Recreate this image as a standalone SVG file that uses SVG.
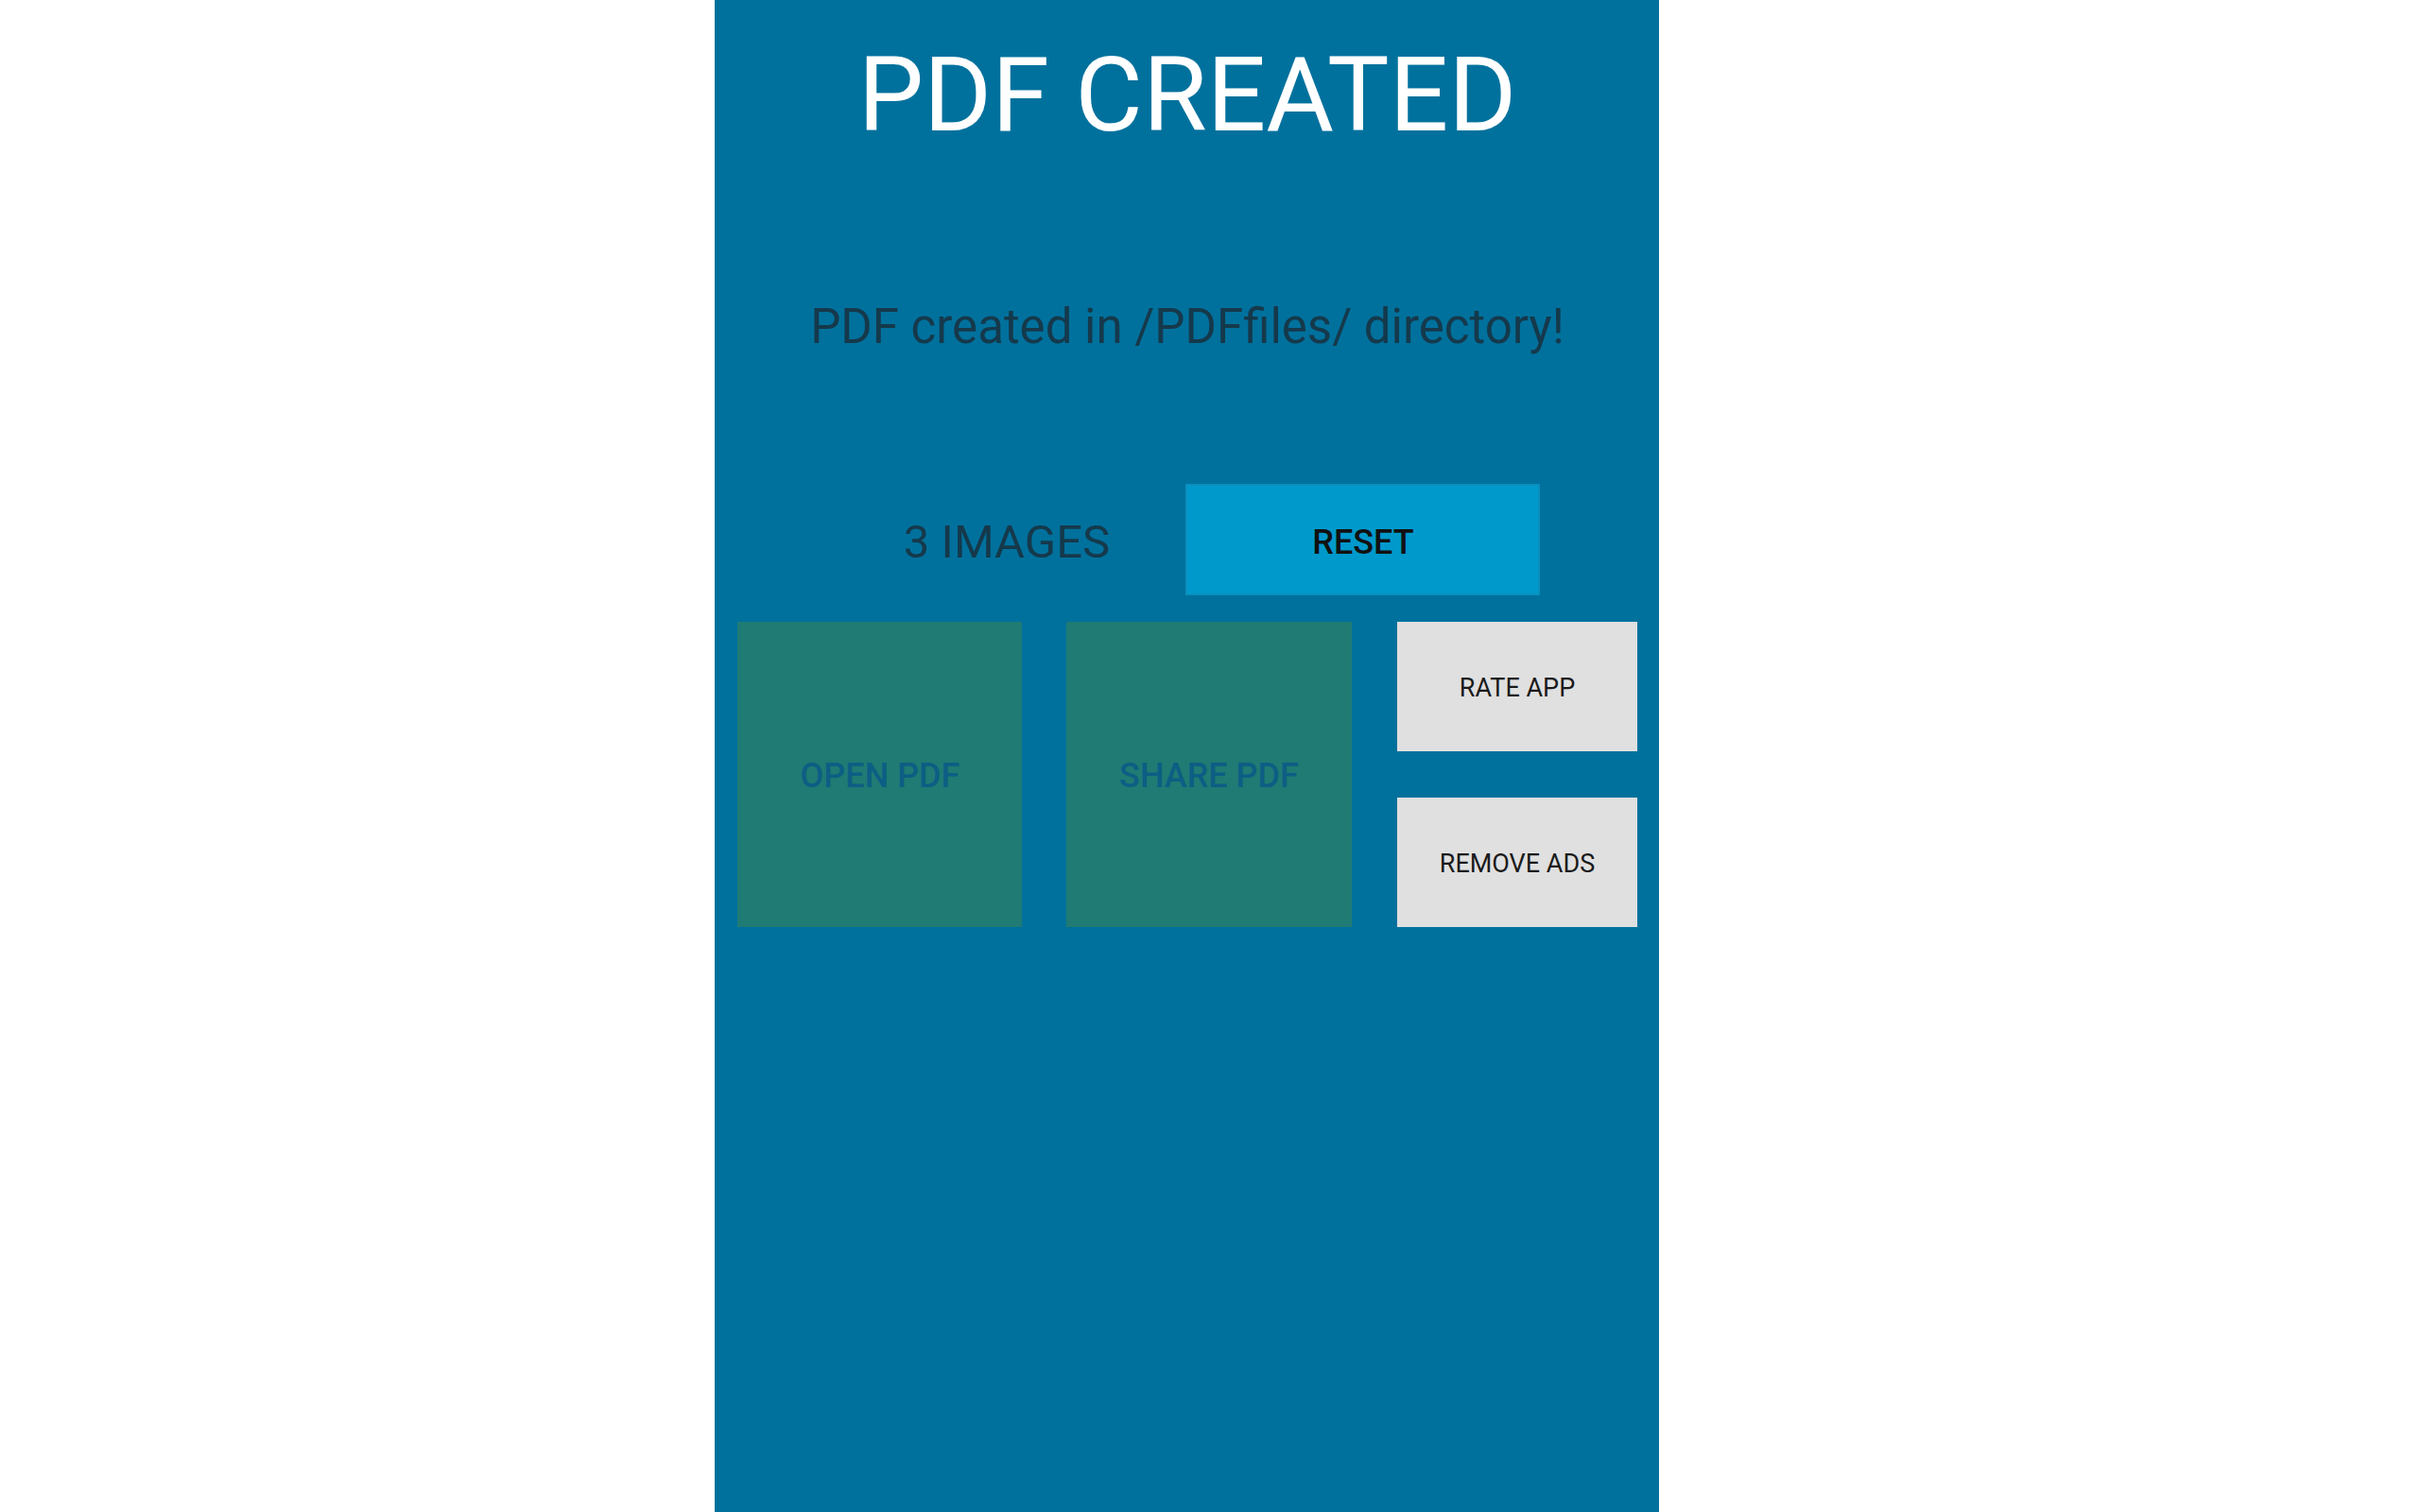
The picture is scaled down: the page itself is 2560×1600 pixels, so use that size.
<svg xmlns="http://www.w3.org/2000/svg" width="2560" height="1600" viewBox="0 0 2560 1600">
<style>
text{font-family:Roboto,"Liberation Sans",sans-serif;text-anchor:middle}
.green{fill:#1f7b73}
.gt{fill:#0d5e84;font-size:36px;font-weight:500}
.grey{fill:#e0e0e0}
.bt{fill:#1a1a1a;font-size:27px;font-weight:normal}
</style>
<rect width="2560" height="1600" fill="#fff"/>
<rect x="756" y="0" width="999" height="1600" fill="#00719d"/>
<g id="title"><text x="1256" y="138" font-size="110" fill="#fff">PDF CREATED</text></g>
<g id="message"><text x="1256" y="363" font-size="51" fill="#15394b">PDF created in /PDFfiles/ directory!</text></g>
<g id="count"><text x="1065" y="590" font-size="49" fill="#15394b">3 IMAGES</text></g>
<g id="reset"><rect x="1255" y="513" width="373" height="116" fill="#0099cc" stroke="#0a8fbd" stroke-width="2"/><text x="1442" y="586" font-size="36" font-weight="500" fill="#111">RESET</text></g>
<g id="open"><rect class="green" x="780" y="658" width="301" height="323"/><text class="gt" x="931" y="833">OPEN PDF</text></g>
<g id="share"><rect class="green" x="1128" y="658" width="302" height="323"/><text class="gt" x="1279" y="833">SHARE PDF</text></g>
<g id="rate"><rect class="grey" x="1478" y="658" width="254" height="137"/><text class="bt" x="1605" y="737">RATE APP</text></g>
<g id="remove"><rect class="grey" x="1478" y="844" width="254" height="137"/><text class="bt" x="1605" y="923">REMOVE ADS</text></g>
<g id="connectors"/>
</svg>
